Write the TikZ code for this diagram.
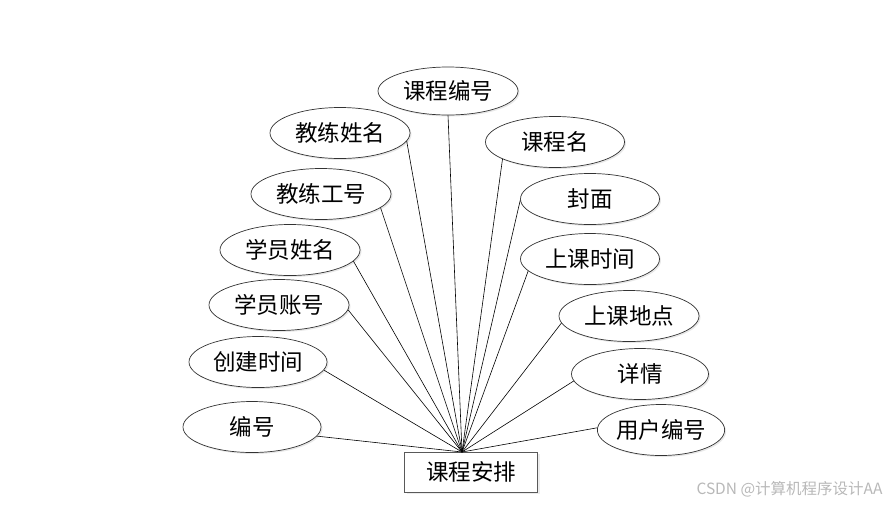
\documentclass[tikz,border=0pt]{standalone}
\usepackage{fontspec}
\newfontfamily\cjk{Noto Sans CJK SC}
\usetikzlibrary{shadows,shapes.geometric}

\begin{document}
\begin{tikzpicture}[
  x=1pt, y=-1pt,
  font=\cjk\fontsize{22.5}{22.5}\selectfont,
  attr/.style  = {ellipse, draw=black!80, line width=0.7pt, fill=white,
                  minimum width=140pt, minimum height=51pt, inner sep=0pt,
                  drop shadow={shadow xshift=1.5pt, shadow yshift=-1.5pt, fill=black!18}},
  ent/.style   = {rectangle, draw=black!65, line width=0.8pt, fill=white,
                  minimum width=133pt, minimum height=40pt, inner sep=0pt,
                  drop shadow={shadow xshift=2pt, shadow yshift=-2pt, fill=black!15}},
  link/.style  = {draw=black, line width=0.6pt},
]
\useasboundingbox (0,0) rectangle (896,504);

% ---- entity ----------------------------------------------------------------
\node[ent] (kcap) at (471,472) {课程安排};
\coordinate (hub) at (462,452);

% ---- attributes, left side -------------------------------------------------
\node[attr, minimum height=48pt] (kcbh) at (448,91)  {课程编号};
\node[attr] (jlxm) at (340,133) {教练姓名};
\node[attr] (jlgh) at (321,194) {教练工号};
\node[attr] (xyxm) at (290,250) {学员姓名};
\node[attr] (xyzh) at (279,305) {学员账号};
\node[attr, minimum width=138pt] (cjsj) at (258,362) {创建时间};
\node[attr, minimum width=138pt] (bh)   at (252,427) {编号};

% ---- attributes, right side ------------------------------------------------
\node[attr, minimum width=139pt] (kcm)  at (555,142) {课程名};
\node[attr, minimum width=139pt] (fm)   at (590,199) {封面};
\node[attr, minimum width=139pt] (sksj) at (590,259) {上课时间};
\node[attr] (skdd) at (629,316) {上课地点};
\node[attr, minimum width=137pt] (xq)   at (640,374) {详情};
\node[attr, minimum width=122pt] (yhbh) at (661,430) {用户编号};

% ---- links -----------------------------------------------------------------
\foreach \a/\ang in {kcbh/-90, jlxm/-7, jlgh/-13, xyxm/-10, xyzh/-4, cjsj/-7, bh/-8,
                     kcm/198, fm/181, sksj/191, skdd/186, xq/186, yhbh/178}
  \draw[link] (\a.\ang) -- (hub);

\node[anchor=east, text=black!28, font=\cjk\fontsize{15.5}{15.5}\selectfont]
  (wm) at (886,489) {CSDN @计算机程序设计AA};

\end{tikzpicture}
\end{document}
